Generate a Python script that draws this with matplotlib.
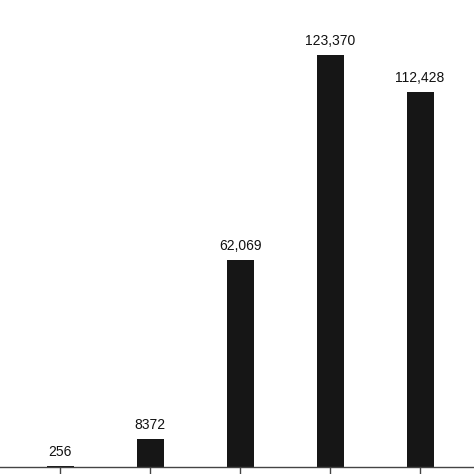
import numpy as np
import matplotlib.pyplot as plt

plt.rcParams['font.family'] = ['Liberation Sans', 'DejaVu Sans']

# bar values
positions = [0, 1, 2, 3, 4]
values = [256, 8372, 62069, 123370, 112428]
labels = ['256', '8372', '62,069', '123,370', '112,428']

fig = plt.figure(figsize=(4.74, 4.74), dpi=100)
ax = fig.add_axes([0, 7 / 474, 1, 1 - 7 / 474])

ax.bar(positions, values, width=0.3, color='#161616', zorder=2)

for p, v, lab in zip(positions, values, labels):
    ax.annotate(lab, (p, v), xytext=(0, 5), textcoords='offset points',
                ha='center', va='bottom', fontsize=10, color='#111111')

ax.set_xlim(-60 / 90, 414 / 90)
ax.set_ylim(0, 123370 * 467 / 412)

ax.set_xticks(positions)
ax.set_xticklabels([])
ax.set_yticks([])
ax.tick_params(axis='x', direction='out', length=5.5, width=1, color='#444444')

for side in ['top', 'left', 'right']:
    ax.spines[side].set_visible(False)
ax.spines['bottom'].set_color('#444444')
ax.spines['bottom'].set_linewidth(1)

fig.savefig('out.png', dpi=100)
